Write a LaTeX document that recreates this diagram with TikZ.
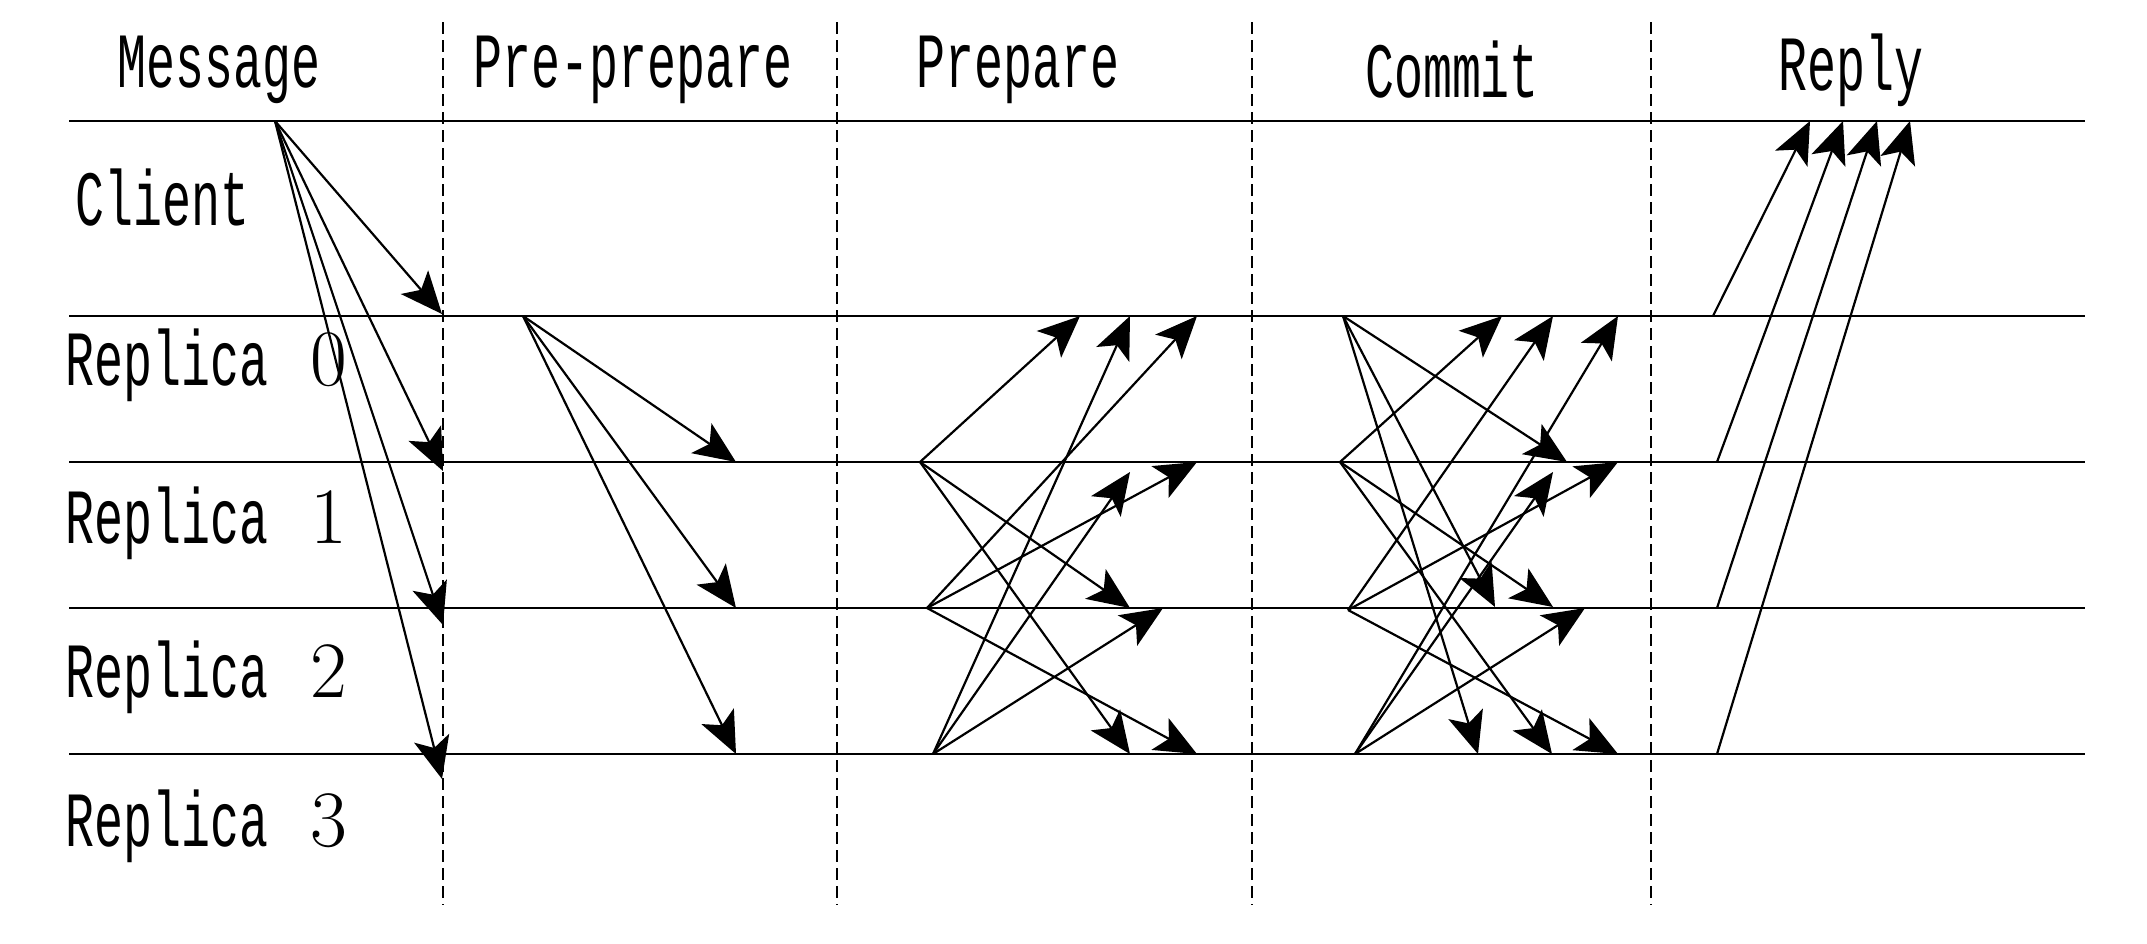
\documentclass[tikz,border=0pt]{standalone}
\usepackage{fontspec}
\newfontfamily\labfont{Liberation Mono}
\usetikzlibrary{arrows.meta}
\begin{document}
\begin{tikzpicture}[x=0.5pt,y=-0.5pt,
  lane/.style={line width=1.1pt},
  phase/.style={line width=1pt,dash pattern=on 6pt off 3pt},
  arr/.style={line width=1.1pt,-{Stealth[length=21pt,width=18pt,inset=5pt]}},
  txt/.style={inner sep=0pt,font=\fontsize{34}{34}\labfont}]
\path[use as bounding box] (0,0) rectangle (2147,943);
% lanes
\foreach \y/\n in {121/l0,316/l1,462/l2,608/l3,754/l4}{
  \coordinate (\n a) at (69,\y); \coordinate (\n b) at (2085,\y);
  \draw[lane] (\n a) -- (\n b);}
% phase separators
\foreach \x/\n in {443/d1,837/d2,1252/d3,1651/d4}{
  \coordinate (\n a) at (\x,22); \coordinate (\n b) at (\x,905);
  \draw[phase] (\n a) -- (\n b);}
% headers
\node[txt] (hm) at (219,70) {\scalebox{0.71}[1.15]{Message}};
\node[txt] (hp) at (633,70) {\scalebox{0.71}[1.15]{Pre-prepare}};
\node[txt] (hr) at (1018,70) {\scalebox{0.71}[1.15]{Prepare}};
\node[txt] (hc) at (1452,70) {\scalebox{0.71}[1.15]{Commit}};
\node[txt] (hy) at (1851,70) {\scalebox{0.71}[1.15]{Reply}};
\node[txt,anchor=west] (nc) at (75,198) {\scalebox{0.71}[1.15]{Client}};
\foreach \y/\d in {365/0,523/1,677/2,826/3}
  \node[txt,anchor=west] (n\d) at (65,\y) {\scalebox{0.71}[1.15]{Replica }{\fontsize{40}{40}\rmfamily\,\d}};
% message
\coordinate (ms) at (275,121);
\coordinate (m0) at (442,314); \coordinate (m1) at (443,471);
\coordinate (m2) at (443,625); \coordinate (m3) at (442,779);
\foreach \t in {m0,m1,m2,m3} \draw[arr] (ms) -- (\t);
% pre-prepare
\coordinate (ps) at (523,316);
\coordinate (p1) at (736,462); \coordinate (p2) at (736,608); \coordinate (p3) at (736,754);
\foreach \t in {p1,p2,p3} \draw[arr] (ps) -- (\t);
% prepare
\coordinate (P1) at (920,462); \coordinate (P2) at (927,608); \coordinate (P3) at (933,754);
\coordinate (P1a) at (1080,316); \coordinate (P1b) at (1130,608); \coordinate (P1c) at (1130,754);
\coordinate (P2a) at (1197,316); \coordinate (P2b) at (1197,462); \coordinate (P2c) at (1197,754);
\coordinate (P3a) at (1130,316); \coordinate (P3b) at (1130,472); \coordinate (P3c) at (1163,608);
\foreach \s in {P1,P2,P3} \foreach \t in {a,b,c} \draw[arr] (\s) -- (\s\t);
% commit
\coordinate (C0) at (1343,316); \coordinate (C1) at (1340,462); \coordinate (C2) at (1348,610); \coordinate (C3) at (1355,754);
\coordinate (C0a) at (1567,462); \coordinate (C0b) at (1495,607); \coordinate (C0c) at (1478,754);
\coordinate (C1a) at (1502,316); \coordinate (C1b) at (1553,607); \coordinate (C1c) at (1552,754);
\coordinate (C2a) at (1553,316); \coordinate (C2b) at (1618,462); \coordinate (C2c) at (1618,754);
\coordinate (C3a) at (1618,316); \coordinate (C3b) at (1553,472); \coordinate (C3c) at (1585,608);
\foreach \s in {C0,C1,C2,C3} \foreach \t in {a,b,c} \draw[arr] (\s) -- (\s\t);
% reply
\coordinate (R0) at (1713,316); \coordinate (R1) at (1717,462); \coordinate (R2) at (1717,608); \coordinate (R3) at (1717,754);
\coordinate (R0t) at (1810,121); \coordinate (R1t) at (1843,121); \coordinate (R2t) at (1877,121); \coordinate (R3t) at (1910,121);
\foreach \s in {R0,R1,R2,R3} \draw[arr] (\s) -- (\s t);
\end{tikzpicture}
\end{document}
